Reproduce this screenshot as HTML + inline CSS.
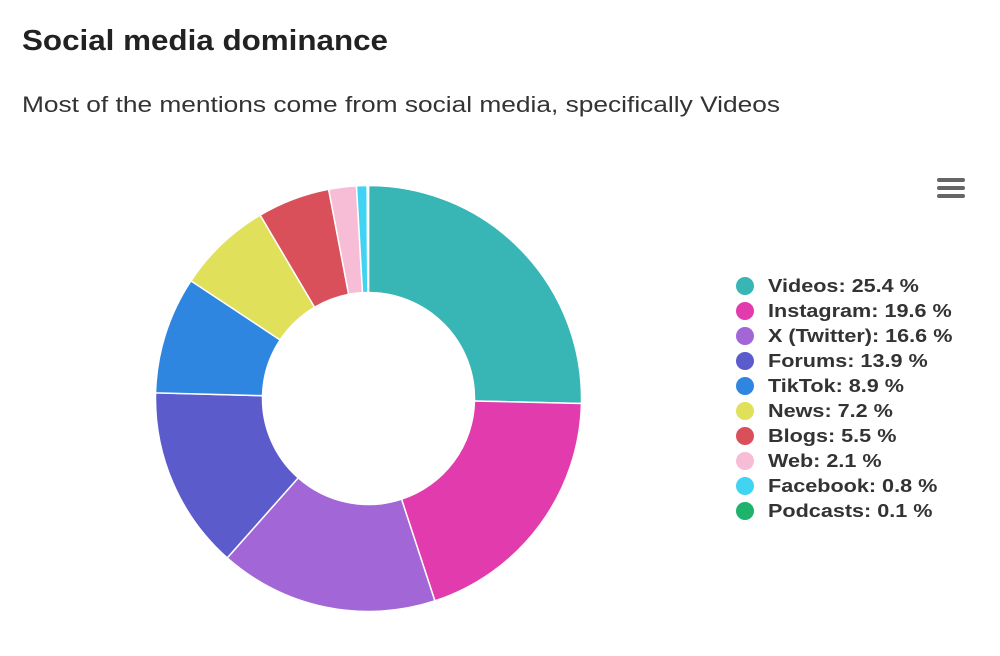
<!DOCTYPE html>
<html><head><meta charset="utf-8"><style>
body{margin:0;background:#fff;font-family:"Liberation Sans",sans-serif;}
#wrap{position:relative;width:1000px;height:656px;overflow:hidden;}
</style></head><body>
<div id="wrap">
<svg id="svg" width="1000" height="656">
<text x="22" y="50" font-size="29" font-weight="bold" fill="#222" textLength="366" lengthAdjust="spacingAndGlyphs">Social media dominance</text>
<text x="22" y="112" font-size="22" fill="#333" textLength="758" lengthAdjust="spacingAndGlyphs">Most of the mentions come from social media, specifically Videos</text>
<g>
<rect x="937" y="178" width="28" height="4" rx="2" fill="#666"/>
<rect x="937" y="186" width="28" height="4" rx="2" fill="#666"/>
<rect x="937" y="194" width="28" height="4" rx="2" fill="#666"/>
</g>
<g id="slices"></g>
<g id="legend"></g>
</svg>
</div>
<script>
const categories=["Videos","Instagram","X (Twitter)","Forums","TikTok","News","Blogs","Web","Facebook","Podcasts"];
const values=[25.4,19.6,16.6,13.9,8.9,7.2,5.5,2.1,0.8,0.1];
const colors=["#38b5b5","#e23bad","#a366d6","#5b5bcc","#2e86e0","#e0e05a","#d9505a","#f7bdd6","#40d4f2","#1db36b"];
const NS="http://www.w3.org/2000/svg";
const cx=368.5,cy=398.5,R=213,r=106;
const total=values.reduce((a,b)=>a+b,0);
const sg=document.getElementById('slices');
let a=-Math.PI/2;
function pt(rad,ang){return [cx+rad*Math.cos(ang),cy+rad*Math.sin(ang)];}
values.forEach((v,i)=>{
  const a2=a+v/total*2*Math.PI;
  const large=(a2-a)>Math.PI?1:0;
  const p1=pt(R,a),p2=pt(R,a2),p3=pt(r,a2),p4=pt(r,a);
  const p=document.createElementNS(NS,'path');
  p.setAttribute('d',`M${p1[0]},${p1[1]}A${R},${R} 0 ${large} 1 ${p2[0]},${p2[1]}L${p3[0]},${p3[1]}A${r},${r} 0 ${large} 0 ${p4[0]},${p4[1]}Z`);
  p.setAttribute('fill',colors[i]);p.setAttribute('stroke','#fff');p.setAttribute('stroke-width','1.5');
  
  
  sg.appendChild(p);
  a=a2;
});
const lg=document.getElementById('legend');
categories.forEach((c,i)=>{
  const y=286+i*25;
  const g=document.createElementNS(NS,'g');
  
  
  const ci=document.createElementNS(NS,'circle');
  ci.setAttribute('cx',745);ci.setAttribute('cy',y);ci.setAttribute('r',9);ci.setAttribute('fill',colors[i]);
  const t=document.createElementNS(NS,'text');
  t.setAttribute('x',768);t.setAttribute('y',y+6);t.setAttribute('font-size','18');t.setAttribute('font-weight','bold');t.setAttribute('fill','#333');
  t.textContent=c+': '+values[i].toFixed(1)+' %';
  g.appendChild(ci);g.appendChild(t);lg.appendChild(g);
  const w=t.getComputedTextLength();
  t.setAttribute('textLength',(w*1.2).toFixed(1));
  t.setAttribute('lengthAdjust','spacingAndGlyphs');
});
</script>
</body></html>
